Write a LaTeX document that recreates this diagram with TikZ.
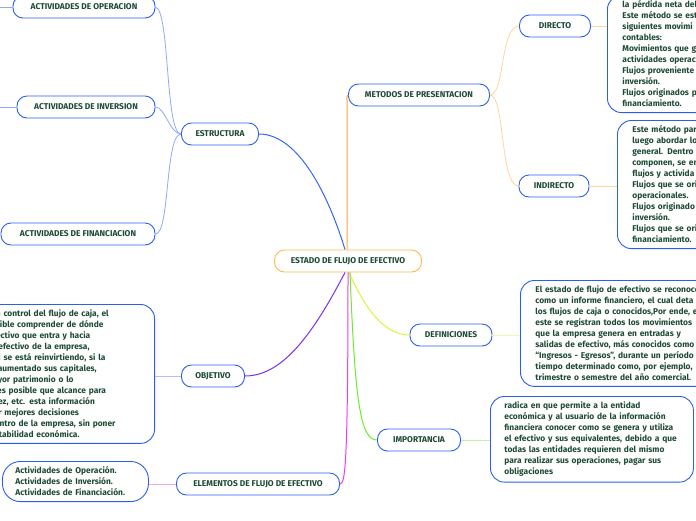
\documentclass[tikz,border=0pt]{standalone}
\usepackage{fontspec}
\setmainfont{Fira Sans}
\definecolor{txt}{HTML}{1D4A34}
\definecolor{bd}{HTML}{2A5EF0}
\definecolor{cblue}{HTML}{3366F5}
\definecolor{lblue}{HTML}{8FAAF8}
\definecolor{corange}{HTML}{FFA53A}
\definecolor{lorange}{HTML}{FFD59A}
\definecolor{cyel}{HTML}{DDF23A}
\definecolor{lyel}{HTML}{EEF8A8}
\definecolor{cgreen}{HTML}{6EEB2A}
\definecolor{lgreen}{HTML}{C4F2A8}
\definecolor{cviol}{HTML}{7B2FF0}
\definecolor{lviol}{HTML}{C8B4F8}
\definecolor{cmag}{HTML}{F03CF0}
\definecolor{lmag}{HTML}{EEA8EE}
\definecolor{cbd}{HTML}{FFB84D}
\begin{document}
\begin{tikzpicture}[x=1pt,y=-1pt,
  font=\bfseries\fontsize{8.4}{11}\selectfont, text=txt,
  topic/.style={draw=bd,line width=0.9pt,rounded corners=10pt,minimum height=22pt,inner xsep=6pt,inner ysep=0pt},
  bigbox/.style={draw=bd,line width=0.9pt,rounded corners=14pt,align=left,inner xsep=15pt,inner ysep=5.5pt},
  conn/.style={line width=1pt}]
\useasboundingbox (0,0) rectangle (696,520);
\clip (0,0) rectangle (696,520);
% nodes
\node[topic,draw=cbd,minimum width=147pt] (c) at (348,261) {ESTADO DE FLUJO DE EFECTIVO};
\node[topic,minimum width=77pt] (es) at (220,134) {ESTRUCTURA};
\node[topic,minimum width=141pt] (me) at (419,95) {METODOS DE PRESENTACION};
\node[topic,minimum width=82pt] (de) at (451,335) {DEFINICIONES};
\node[topic,minimum width=83pt] (im) at (419,440) {IMPORTANCIA};
\node[topic,minimum width=63pt] (ob) at (213,376) {OBJETIVO};
\node[topic,minimum width=163pt] (el) at (258,484) {ELEMENTOS DE FLUJO DE EFECTIVO};
\node[topic,minimum width=71pt] (di) at (555,26) {DIRECTO};
\node[topic,minimum width=70pt] (in) at (554,186) {INDIRECTO};
\node[topic,minimum width=142pt] (ao) at (84,7) {ACTIVIDADES DE OPERACION};
\node[topic,minimum width=138pt] (ai) at (86,107) {ACTIVIDADES DE INVERSION};
\node[topic,minimum width=154pt] (af) at (78,234) {ACTIVIDADES DE FINANCIACION};

\node[bigbox,anchor=south west,text width=110pt] (dib) at (607,113) {la pérdida neta del\\Este método se est\\siguientes movimi\\contables:\\Movimientos que g\\actividades operac\\Flujos proveniente\\inversión.\\Flujos originados p\\financiamiento.};
\node[bigbox,anchor=north west,text width=110pt] (inb) at (617,120) {Este método par\\luego abordar lo\\general. Dentro\\componen, se en\\flujos y activida\\Flujos que se ori\\operacionales.\\Flujos originado\\inversión.\\Flujos que se ori\\financiamiento.};
\node[bigbox,anchor=north west,text width=200pt] (deb) at (520,280) {El estado de flujo de efectivo se reconoce\\como un informe financiero, el cual deta\\los flujos de caja o conocidos,Por ende, e\\este se registran todos los movimientos\\que la empresa genera en entradas y\\salidas de efectivo, más conocidos como\\“Ingresos - Egresos”, durante un período\\tiempo determinado como, por ejemplo,\\trimestre o semestre del año comercial.};
\node[bigbox,anchor=north west,text width=175pt,inner xsep=14pt] (imb) at (490,396) {radica en que permite a la entidad\\económica y al usuario de la información\\financiera conocer como se genera y utiliza\\el efectivo y sus equivalentes, debido a que\\todas las entidades requieren del mismo\\para realizar sus operaciones, pagar sus\\obligaciones};
\node[bigbox,anchor=north east,text width=160pt,inner xsep=16pt] (obb) at (155,304) {no un control del flujo de caja, el\\e posible comprender de dónde\\el efectivo que entra y hacia\\le el efectivo de la empresa,\\der si se está reinvirtiendo, si la\\está aumentado sus capitales,\\n mayor patrimonio o lo\\e, si es posible que alcance para\\iquidez, etc. esta información\\tomar mejores decisiones\\as dentro de la empresa, sin poner\\su estabilidad económica.};
\node[bigbox,anchor=north west,text width=120pt,inner xsep=13pt,rounded corners=18pt] (elb) at (2,461) {Actividades de Operación.\\Actividades de Inversión.\\Actividades de Financiación.};

% connectors
\draw[conn,draw=cblue] ([xshift=-3pt]c.north) .. controls (330,200) and (300,134) .. (es.east);
\draw[conn,draw=corange] ([xshift=-1pt]c.north) -- (347,100) to[out=90,in=180] (me.west);
\draw[conn,draw=cyel] ([xshift=1pt]c.south) .. controls (370,320) and (390,335) .. (de.west);
\draw[conn,draw=cgreen] ([xshift=2pt]c.south) .. controls (355,400) and (360,440) .. (im.west);
\draw[conn,draw=cviol] ([xshift=-3pt]c.south) .. controls (310,340) and (280,376) .. (ob.east);
\draw[conn,draw=cmag] (c.south) .. controls (348,470) and (345,484) .. (el.east);

\begin{scope}[conn,line width=0.8pt,draw=lblue]
\draw (es.west) .. controls (165,134) and (170,10) .. (ao.east);
\draw (es.west) .. controls (170,134) and (165,107) .. (ai.east);
\draw (es.west) .. controls (165,134) and (170,234) .. (af.east);
\draw (ao.west) -- (0,7);
\draw (ai.west) -- (0,107);
\end{scope}
\begin{scope}[conn,line width=0.8pt,draw=lorange]
\draw (me.east) .. controls (505,95) and (500,26) .. (di.west);
\draw (me.east) .. controls (505,95) and (500,186) .. (in.west);
\draw (di.east) -- (dib.west |- di.east);
\draw (in.east) -- (inb.west |- in.east);
\end{scope}
\draw[conn,draw=lyel] (de.east) -- (deb.west |- de.east);
\draw[conn,draw=lgreen] (im.east) -- (imb.west |- im.east);
\draw[conn,draw=lviol] (ob.west) -- (obb.east |- ob.west);
\draw[conn,draw=lmag] (el.west) -- (elb.east |- el.west);
\end{tikzpicture}
\end{document}
